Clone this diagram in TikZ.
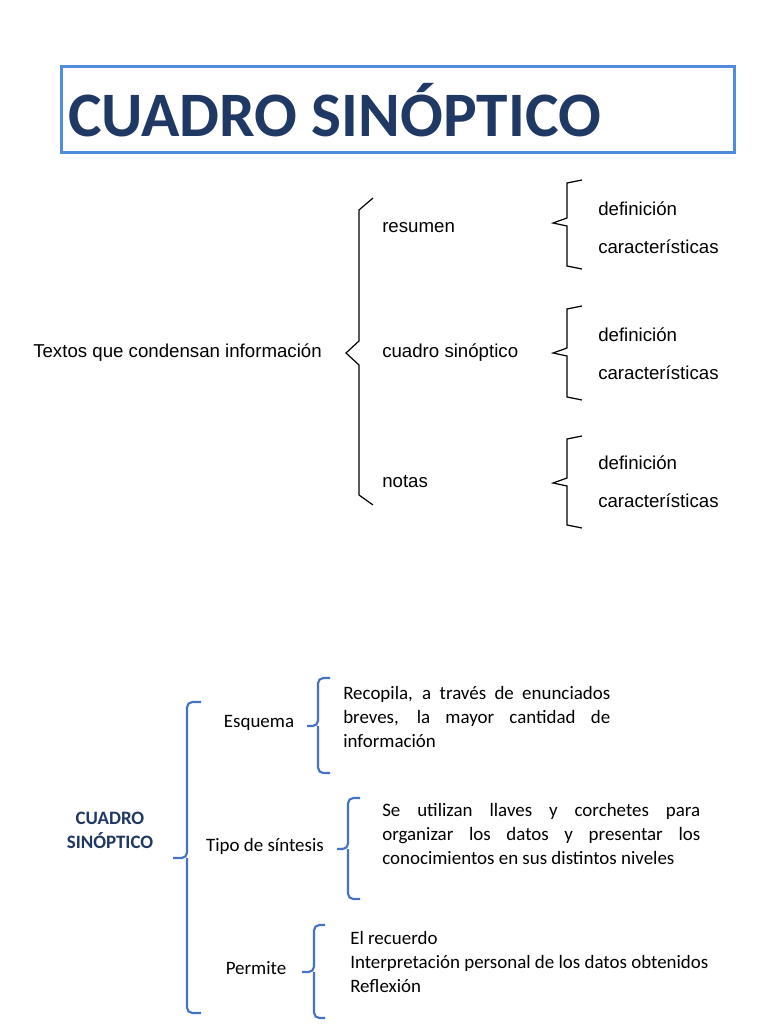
\documentclass[tikz,border=0pt]{standalone}
\usepackage{fontspec}
\setmainfont{Carlito}
\newfontfamily\arialf{Liberation Sans}
\definecolor{boxblue}{RGB}{80,140,220}
\definecolor{titleblue}{RGB}{31,56,100}
\definecolor{brblue}{RGB}{68,114,196}
\newcommand{\nohyph}{\hyphenpenalty=10000\relax\exhyphenpenalty=10000\relax}
\begin{document}
\begin{tikzpicture}[x=0.75pt,y=-0.75pt,
  toptxt/.style={font=\arialf\fontsize{14}{16}\selectfont,anchor=west,inner sep=0},
  bottxt/.style={font=\fontsize{14.2}{18}\selectfont\nohyph,inner sep=0},
  blackbrace/.style={draw=black,line width=0.9pt},
  bluebrace/.style={draw=brblue,line width=1.6pt,rounded corners=4pt}]
\useasboundingbox (0,0) rectangle (768,1024);
\fill[white] (0,0) rectangle (768,1024);
% title
\node[draw=boxblue,line width=2.3pt,minimum width=673*0.75pt,minimum height=86*0.75pt,inner sep=0,anchor=north west] (title) at (60,65) {};
\node[font=\fontsize{47.5}{55}\selectfont\bfseries,text=titleblue,anchor=west,inner sep=0] (titletxt) at (68,110) {CUADRO SINÓPTICO};
% top diagram
\node[toptxt] (root) at (33,353) {Textos que condensan información};
\draw[blackbrace] (373,198) -- (359,210) -- (359,341) -- (346,353) -- (359,365) -- (359,495) -- (373,505);
\node[toptxt] (r1) at (382,228) {resumen};
\node[toptxt] (r2) at (382,353) {cuadro sinóptico};
\node[toptxt] (r3) at (382,482) {notas};
\foreach \t/\b/\m/\n in {180/269/223/1,306/400/353/2,436/528/483/3}{
  \draw[blackbrace] (582,\t) -- (567,\t+3) -- (567,\m-5) -- (553,\m) -- (567,\m+3) -- (567,\b-3) -- (582,\b);
}
\node[toptxt] (d1) at (598,209) {definición};
\node[toptxt] (c1) at (598,247) {características};
\node[toptxt] (d2) at (598,335) {definición};
\node[toptxt] (c2) at (598,373) {características};
\node[toptxt] (d3) at (598,463) {definición};
\node[toptxt] (c3) at (598,501) {características};
% bottom diagram
\node[text=titleblue,font=\fontsize{14.2}{18}\selectfont\bfseries,align=center,inner sep=0] (croot) at (110,830) {CUADRO\\SINÓPTICO};
\draw[bluebrace] (201,702) -- (187,702) -- (187,858) -- (173,858) (187,858) -- (187,1013) -- (201,1013);
\node[bottxt] (e) at (259,723) {Esquema};
\node[bottxt] (t) at (265,846) {Tipo de síntesis};
\node[bottxt] (p) at (256,968) {Permite};
\draw[bluebrace] (330,678) -- (318,678) -- (318,726) -- (307,726) (318,726) -- (318,773) -- (330,773);
\draw[bluebrace] (360,798) -- (348,798) -- (348,849) -- (337,849) (348,849) -- (348,899) -- (360,899);
\draw[bluebrace] (325,925) -- (314,925) -- (314,972) -- (302,972) (314,972) -- (314,1018) -- (325,1018);
\node[bottxt,anchor=north west,text width=267*0.75pt,align=justify] (pe) at (343,686) {Recopila, a través de enunciados breves, la mayor cantidad de información};
\node[bottxt,anchor=north west,text width=318*0.75pt,align=justify] (pt) at (382,803) {Se utilizan llaves y corchetes para organizar los datos y presentar los conocimientos en sus distintos niveles};
\node[bottxt,anchor=north west,align=left] (pp) at (350,931) {El recuerdo\\Interpretación personal de los datos obtenidos\\Reflexión};
\end{tikzpicture}
\end{document}
